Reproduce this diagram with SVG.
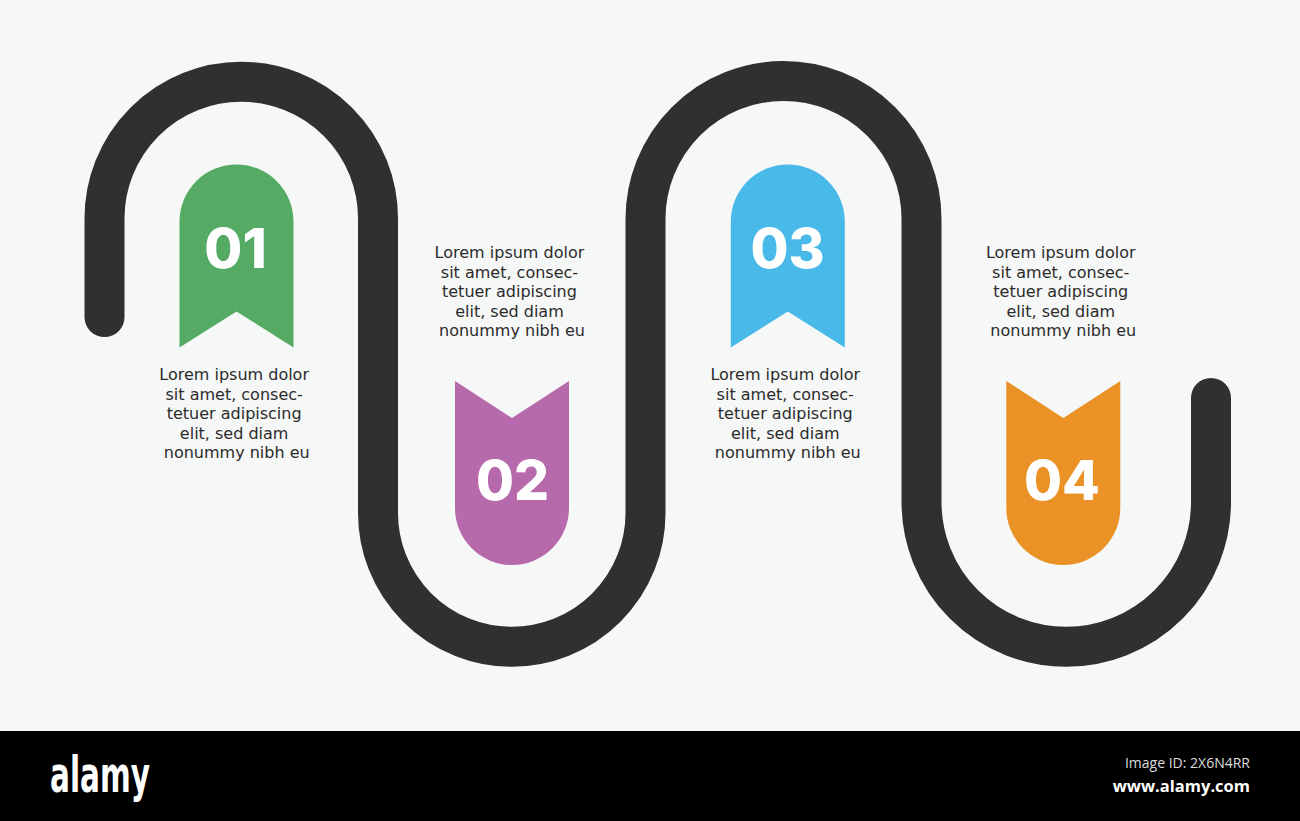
<svg xmlns="http://www.w3.org/2000/svg" width="1300" height="821" viewBox="0 0 1300 821">
  <style>
    .body { font-family: "DejaVu Sans", "Open Sans", "Liberation Sans", sans-serif; font-size: 16px; font-weight: normal; fill: #2b2b2b; text-anchor: middle; }
    .num { font-family: Inter, "Open Sans", "Liberation Sans", sans-serif; font-size: 55px; font-weight: 800; fill: #ffffff; text-anchor: middle; }
    .road { fill: none; stroke: #303030; stroke-width: 40; stroke-linecap: round; stroke-linejoin: round; }
  </style>
  <rect x="0" y="0" width="1300" height="821" fill="#f6f7f7"/>

  <g id="connectors">
    <path class="road" d="M104.5,317 L104.5,218.5 A136.75,136.75 0 0 1 378,218.5 L378,513 A133.75,133.75 0 0 0 645.5,513 L645.5,219 A137.75,137.75 0 0 1 921.5,219 L921.5,502 A144.75,144.75 0 0 0 1211,502 L1211,398"/>
  </g>

  <g id="step-01">
    <path d="M179.5,347.5 L179.5,221.5 A57,57 0 0 1 293.5,221.5 L293.5,347.5 L236.5,311.5 Z" fill="#55ab63"/>
    <text class="num" x="235.5" y="268">01</text>
    <text class="body" x="236.7">
      <tspan x="236.7" y="380">Lorem ipsum dolor</tspan>
      <tspan x="236.7" y="399.5">sit amet, consec-</tspan>
      <tspan x="236.7" y="419">tetuer adipiscing</tspan>
      <tspan x="236.7" y="438.5">elit, sed diam</tspan>
      <tspan x="236.7" y="458">nonummy nibh eu</tspan>
    </text>
  </g>

  <g id="step-02">
    <path d="M455,381 L512,418 L569,381 L569,508 A57,57 0 0 1 455,508 Z" fill="#b76aab"/>
    <text class="num" x="512.5" y="500">02</text>
    <text class="body" x="512">
      <tspan x="512" y="258">Lorem ipsum dolor</tspan>
      <tspan x="512" y="277.5">sit amet, consec-</tspan>
      <tspan x="512" y="297">tetuer adipiscing</tspan>
      <tspan x="512" y="316.5">elit, sed diam</tspan>
      <tspan x="512" y="336">nonummy nibh eu</tspan>
    </text>
  </g>

  <g id="step-03">
    <path d="M730.8,347.5 L730.8,221.5 A57,57 0 0 1 844.8,221.5 L844.8,347.5 L787.8,311.5 Z" fill="#49b9e9"/>
    <text class="num" x="787.5" y="268">03</text>
    <text class="body" x="787.8">
      <tspan x="787.8" y="380">Lorem ipsum dolor</tspan>
      <tspan x="787.8" y="399.5">sit amet, consec-</tspan>
      <tspan x="787.8" y="419">tetuer adipiscing</tspan>
      <tspan x="787.8" y="438.5">elit, sed diam</tspan>
      <tspan x="787.8" y="458">nonummy nibh eu</tspan>
    </text>
  </g>

  <g id="step-04">
    <path d="M1006.3,381 L1063.3,418 L1120.3,381 L1120.3,508 A57,57 0 0 1 1006.3,508 Z" fill="#ea9226"/>
    <text class="num" x="1062" y="500">04</text>
    <text class="body" x="1063.3">
      <tspan x="1063.3" y="258">Lorem ipsum dolor</tspan>
      <tspan x="1063.3" y="277.5">sit amet, consec-</tspan>
      <tspan x="1063.3" y="297">tetuer adipiscing</tspan>
      <tspan x="1063.3" y="316.5">elit, sed diam</tspan>
      <tspan x="1063.3" y="336">nonummy nibh eu</tspan>
    </text>
  </g>

  <g id="footer">
    <rect x="0" y="731" width="1300" height="90" fill="#000000"/>
    <text x="50" y="792" font-family="'DejaVu Sans', 'Liberation Sans', sans-serif" font-weight="bold" font-stretch="condensed" font-size="50" fill="#ffffff" textLength="100" lengthAdjust="spacingAndGlyphs">alamy</text>
    <text x="1250" y="767.5" font-family="'Open Sans', 'Noto Sans', sans-serif" font-size="14" fill="#dddddd" text-anchor="end">Image ID: 2X6N4RR</text>
    <text x="1250" y="792" font-family="'Open Sans', 'Noto Sans', sans-serif" font-size="16.5" font-weight="bold" fill="#ffffff" text-anchor="end">www.alamy.com</text>
  </g>
</svg>
